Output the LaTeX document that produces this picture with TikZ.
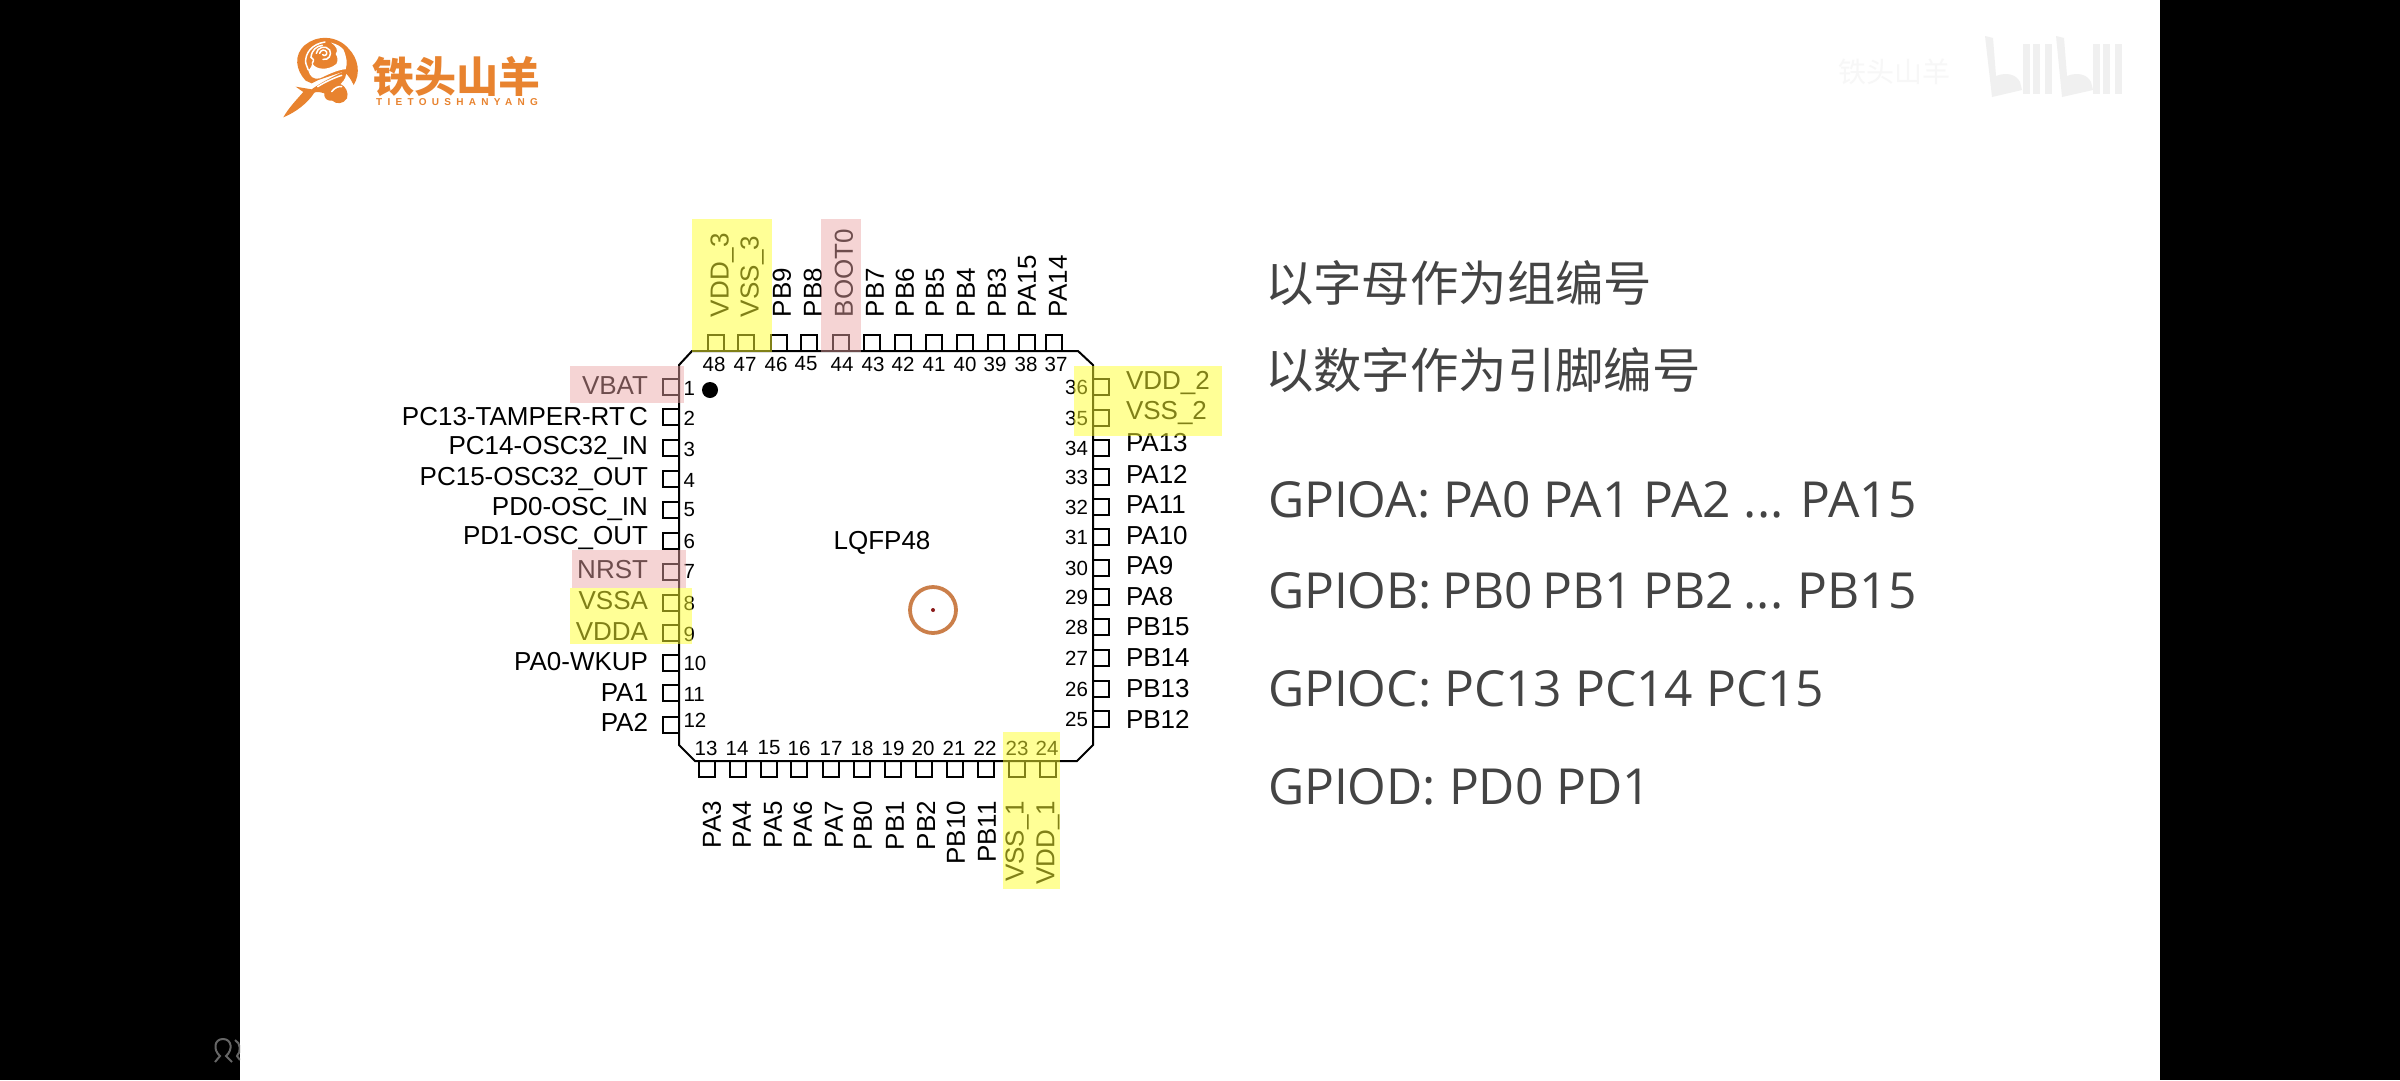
\documentclass[tikz,border=0pt]{standalone}
\usepackage{fontspec}
\setmainfont{Liberation Sans}
\newfontfamily\cjkfont{Noto Sans CJK SC}
\newfontfamily\slidefont{Open Sans}
\definecolor{slidegrey}{HTML}{444444}
\definecolor{hlyellow}{RGB}{255,255,46}
\definecolor{hlpink}{RGB}{235,165,165}
\definecolor{logoorange}{HTML}{E8832F}
\definecolor{ringorange}{HTML}{CB7F4A}
\definecolor{ringdot}{HTML}{8B1A1A}
\tikzset{
  every node/.style={inner sep=0pt,outer sep=0pt},
  pad/.style={draw=black,line width=2.1pt,minimum size=15.5pt,fill=none},
  pinlabel/.style={font=\fontsize{26}{26}\selectfont},
  pinnum/.style={font=\fontsize{20.5}{20.5}\selectfont},
  yellowmark/.style={fill=hlyellow,opacity=.5},
  pinkmark/.style={fill=hlpink,opacity=.47},
  slidetext/.style={anchor=west,text=slidegrey,font=\slidefont\fontsize{49.7}{49.7}\selectfont},
  cjktext/.style={anchor=west,text=slidegrey,font=\cjkfont\fontsize{48.4}{48.4}\selectfont},
  logocut/.style={draw=white,line width=1.5pt,line cap=round},
  wmark/.style={fill=black!6},
}
\begin{document}
\begin{tikzpicture}[x=1pt,y=-1pt]
\useasboundingbox (0,0) rectangle (2400,1080);
\fill[black] (0,0) rectangle (2400,1080);
\fill[white] (240,0) rectangle (2160,1080);
% footer icon
\begin{scope}
\clip (190,1030) rectangle (240,1070);
\draw[black!60,line width=2pt] (215,1062) -- (220,1056) .. controls (213,1050) and (214,1039) .. (223,1039) .. controls (232,1039) and (233,1050) .. (226,1056) -- (232,1062);
\draw[black!60,line width=2pt] (235,1040) .. controls (241,1043) and (241,1052) .. (237,1056) -- (240,1060);
\end{scope}
% logo, in the coordinates of a 3x crop
\begin{scope}[shift={(275,30)},x=0.3333pt,y=-0.3333pt]
\fill[logoorange] (92,152) .. controls (62,120) and (55,75) .. (90,45) .. controls (125,15) and (185,15) .. (220,55) .. controls (250,85) and (258,130) .. (236,165) .. controls (228,150) and (222,135) .. (205,125) -- (130,150) -- (110,160) -- cycle;
\fill[white] (168,38) .. controls (185,42) and (195,48) .. (205,58) .. controls (215,80) and (218,100) .. (212,118) .. controls (195,118) and (170,128) .. (135,145) .. controls (118,150) and (104,140) .. (100,122) .. controls (108,112) and (112,106) .. (112,100) .. controls (122,120) and (160,122) .. (184,102) .. controls (190,92) and (188,80) .. (182,72) .. controls (190,62) and (186,50) .. (168,38) -- cycle;
\draw[logocut] (92,98) .. controls (90,70) and (110,42) .. (150,36);
\draw[logocut] (100,120) .. controls (96,110) and (94,105) .. (92,98);
\draw[logocut] (108,82) .. controls (110,60) and (125,48) .. (142,46);
\draw[logocut] (112,100) .. controls (118,90) and (115,85) .. (108,82);
\draw[logocut] (124,70) .. controls (126,52) and (152,44) .. (164,60) .. controls (172,74) and (160,92) .. (144,88);
\draw[logocut] (134,70) .. controls (136,60) and (150,56) .. (155,66) .. controls (158,74) and (148,80) .. (143,74);
\fill[logoorange] (25,262) .. controls (40,235) and (62,212) .. (85,186) -- (62,170) -- (110,178)
  .. controls (135,160) and (175,138) .. (212,122) .. controls (216,135) and (210,150) .. (196,162)
  .. controls (212,168) and (222,188) .. (216,205) .. controls (206,222) and (184,224) .. (172,212)
  .. controls (156,214) and (146,204) .. (148,190) .. controls (135,186) and (125,184) .. (118,188)
  .. controls (98,220) and (60,248) .. (25,262) -- cycle;
\draw[logocut] (128,170) .. controls (150,156) and (176,144) .. (200,136);
\draw[logocut] (170,185) .. controls (180,172) and (192,168) .. (200,170);
\end{scope}
\node[anchor=center,text=logoorange,font=\cjkfont\bfseries\fontsize{42}{42}\selectfont] (logotext) at (456,77) {铁头山羊};
\node[anchor=center,text=logoorange,font=\bfseries\fontsize{10}{10}\selectfont\addfontfeature{LetterSpace=53}] (logosub) at (457,102) {TIETOUSHANYANG};
% watermark
\node[text=black!3,font=\cjkfont\fontsize{28}{28}\selectfont] (wmtext) at (1894,72) {铁头山羊};
\fill[wmark] (1985,36) -- (1993,38) -- (1996,76) .. controls (2006,72) and (2016,74) .. (2020,82) -- (2022,90) -- (1992,97) -- cycle;
\fill[wmark] (2056,36) -- (2064,38) -- (2067,76) .. controls (2077,72) and (2087,74) .. (2091,82) -- (2093,90) -- (2062,97) -- cycle;
\foreach \wx in {2023,2033,2045,2093,2103,2115}{\fill[wmark] (\wx,44) rectangle (\wx+7,94);}
% chip body
\draw[black,line width=2pt] (692,351) -- (1078,351) -- (1093,365) -- (1093,745) -- (1077,761) -- (695,761) -- (679,745) -- (679,365) -- cycle;
\node[pinlabel] (pkg) at (882,543) {LQFP48};
\fill[black] (710,390) circle[radius=8];
\draw[ringorange,line width=3.8pt] (933,610) circle[radius=23];
\fill[ringdot] (933,610) circle[radius=2];
% top pins
\foreach \n/\sx/\nx/\lx/\t in {48/716/714/722/VDD\_3,47/746/745/752/VSS\_3,46/779/776/782/PB9,45/809/806/813/PB8,44/841/842/844/BOOT0,43/872/873/875/PB7,42/903/903/905/PB6,41/934/934/935/PB5,40/965/965/966/PB4,39/996/995/997/PB3,38/1027/1026/1027/PA15,37/1054/1056/1058/PA14}{
  \node[pad] (p\n) at (\sx,343) {};
  \node[pinnum] (n\n) at (\nx,364) {\n};
  \node[pinlabel,rotate=90,anchor=west] (l\n) at (\lx,317) {\t};
}
% left pins
\foreach \n/\py/\ny/\ly/\t in {1/387/388/386/VBAT,2/417/418/417/{PC13-TAMPER-RT\,C},3/448/449/448/PC14-OSC32\_IN,4/479/480/479/PC15-OSC32\_OUT,5/510/510/509/PD0-OSC\_IN,6/541/541/538/PD1-OSC\_OUT,7/572/571/570/NRST,8/603/603/601/VSSA,9/633/634/632/VDDA,10/663/663/662/PA0-WKUP,11/693/694/693/PA1,12/725/720/722/PA2}{
  \node[pad] (p\n) at (671,\py) {};
  \node[pinnum,anchor=west] (n\n) at (683.5,\ny) {\n};
  \node[pinlabel,anchor=east] (l\n) at (648,\ly) {\t};
}
% bottom pins
\foreach \n/\sx/\nx/\lx/\t in {13/707/706/712/PA3,14/738/737/742/PA4,15/769/769/773/PA5,16/799/799/803/PA6,17/831/831/834/PA7,18/862/862/863/PB0,19/893/893/895/PB1,20/924/923/926/PB2,21/955/954/956/PB10,22/986/985/987/PB11,23/1017/1017/1017/VSS\_1,24/1048/1047/1048/VDD\_1}{
  \node[pad] (p\n) at (\sx,769) {};
  \node[pinnum] (n\n) at (\nx,748) {\n};
  \node[pinlabel,rotate=90,anchor=east] (l\n) at (\lx,801) {\t};
}
% right pins
\foreach \n/\py/\ly/\t in {25/719/719/PB12,26/689/689/PB13,27/658/658/PB14,28/627/627/PB15,29/597/597/PA8,30/568/566/PA9,31/537/536/PA10,32/507/505/PA11,33/477/474/PA12,34/448/443/PA13,35/418/413/VSS\_2,36/387/383/VDD\_2}{
  \node[pad] (p\n) at (1101,\py) {};
  \node[pinnum,anchor=east] (n\n) at (1088,\py) {\n};
  \node[pinlabel,anchor=west] (l\n) at (1126,\ly) {\t};
}
% highlights
\fill[yellowmark] (692,219) rectangle (772,352);
\fill[pinkmark] (821,219) rectangle (861,352);
\fill[pinkmark] (570,366) rectangle (684,403);
\fill[yellowmark] (1074,366) rectangle (1222,436);
\fill[pinkmark] (572,550) rectangle (686,588);
\fill[yellowmark] (570,588) rectangle (692,644);
\fill[yellowmark] (1003,732) rectangle (1060,889);
% right-hand text
\node[cjktext] (t1) at (1265,283) {以字母作为组编号};
\node[cjktext] (t2) at (1265,370) {以数字作为引脚编号};
\node[slidetext] (g1) at (1268,500) {GPIOA: PA0 PA1 PA2 ... PA15};
\node[slidetext] (g2) at (1268,591) {\spaceskip=10pt GPIOB: PB0 PB1 PB2 ... PB15};
\node[slidetext] (g3) at (1268,689) {GPIOC: PC13 PC14 PC15};
\node[slidetext] (g4) at (1268,787) {GPIOD: PD0 PD1};
\end{tikzpicture}
\end{document}
